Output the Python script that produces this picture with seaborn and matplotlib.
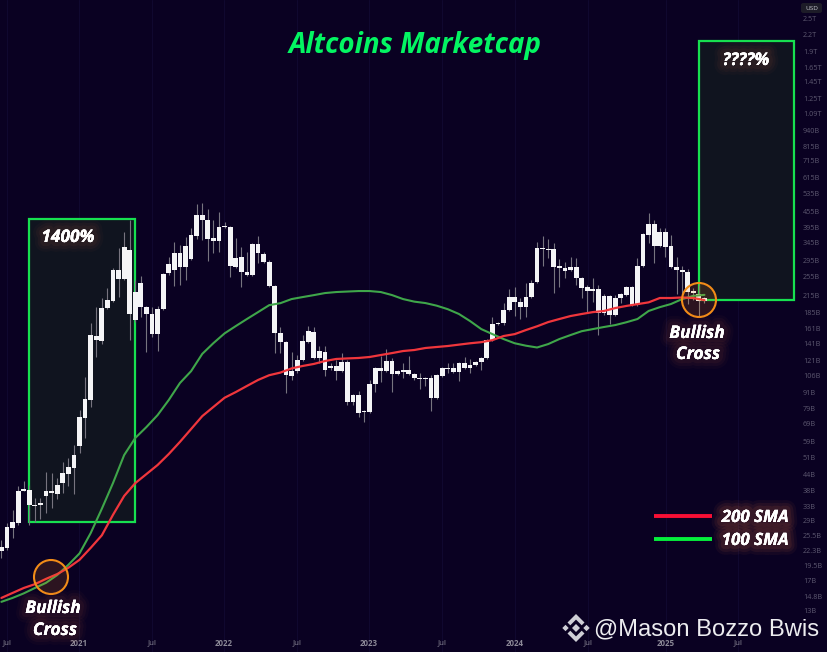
import numpy as np
import pandas as pd
import seaborn as sns
import matplotlib.pyplot as plt
import matplotlib.dates as mdates
import matplotlib.patheffects as pe
from matplotlib.patches import Rectangle, Ellipse, Polygon, FancyBboxPatch

# Biweekly candles in billions USD
body_top = [23.0, 27.4, 28.7, 37.9, 38.4, 38.2, 33.4, 34.0, 37.9, 37.9, 39.9, 44.4, 46.9, 52.1, 73.1, 85.9,
            151.7, 150.4, 192.9, 207, 270.6, 270.6, 331.5, 323, 222.5, 241, 194.5, 183, 191.2, 261, 285.5, 314.6,
            314.6, 334.5, 369, 441, 441, 422, 359.4, 396.4, 400, 396.4, 301.3, 304, 265.8, 340.5, 340.5, 311.8,
            290.8, 234.6, 154.4, 142.4, 110, 121.5, 143.7, 157.2, 155.8, 131.6, 130.4, 115.2, 115.2, 119.4, 119.4, 89,
            89, 77.1, 98.1, 113, 113, 120.4, 120.4, 110, 111, 111, 107.2, 103.5, 103.5, 103.5, 106.2, 113,
            113, 113, 118.3, 118.3, 116.2, 119.4, 123.7, 145, 167.3, 168.8, 189.5, 212.8, 212.8, 203.3, 212.8, 241,
            328.8, 328.8, 326, 326, 280.5, 275.5, 278, 278, 252, 232.5, 228.5, 228.5, 214.7, 214.7, 211, 218.6,
            232.5, 232.5, 280.5, 372.3, 407, 407, 379, 379, 334.5, 278, 270.6, 265.8, 224.5, 218.6, 211]
body_bottom = [22.2, 22.8, 27.2, 28.4, 37.9, 33.4, 33.1, 33.4, 36.2, 37.2, 36.8, 40.6, 44, 46.5, 56.5, 72.5,
               85.1, 145, 143.7, 192.9, 205, 249.7, 249.7, 183, 173.4, 194.5, 183, 153, 153, 191.2, 263.5, 270.6,
               278, 278, 298.6, 366, 422, 356, 350, 350, 396.4, 280.5, 278, 265.8, 258.8, 258.8, 314.6, 290.8,
               234.6, 154.4, 142.4, 106.2, 105.2, 110, 121.5, 142.4, 123.7, 123.7, 111, 113, 110, 110, 83.6, 83.6,
               75.8, 76.5, 76.5, 98.1, 110, 110, 107.2, 107.2, 109, 107.2, 103.5, 102.6, 102.6, 86.7, 86.7, 105.2,
               112, 109, 109, 113, 113, 116.2, 119.4, 123.7, 145, 167.3, 168.8, 189.5, 203.3, 194.5, 194.5, 212.8,
               243, 326, 323, 278, 275.5, 268, 270.6, 252, 230.5, 224.5, 224.5, 184.6, 184.6, 181.3, 181.3, 211,
               216.6, 198, 198, 280.5, 369, 334.5, 334.5, 331.5, 278, 270.6, 265.8, 222.5, 220.5, 205, 205]
wick_high = [24.5, 28.4, 32, 39.6, 41.3, 39.9, 35.5, 35.5, 44.8, 44.4, 42.5, 49, 50.6, 57, 77.8, 104.3,
             168.8, 194.5, 211, 230.5, 275.5, 328.8, 379, 422, 247.5, 256.5, 196.2, 194.5, 196.2, 263.5, 304, 347,
             337.5, 362.5, 393, 486, 490, 465, 422, 453, 414, 400, 359.4, 331.5, 317.3, 343.6, 366, 317.3,
             296, 236.7, 162.8, 143.7, 130.4, 127, 151.7, 164.3, 162.8, 137.4, 137.4, 118.3, 121.5, 129.2, 121.5, 89.8,
             92.2, 77.8, 101.7, 114.2, 125.8, 134, 123.7, 111, 118.3, 125.8, 108.1, 108.1, 104.3, 106.2, 107.2, 114.2,
             118.3, 118.3, 119.4, 124.8, 122.6, 120.4, 124.8, 146.3, 178.1, 170.3, 201.5, 228.5, 232.5, 211, 241, 247.5,
             347, 366, 356, 343.6, 298.6, 290.8, 304, 301.3, 254.3, 236.7, 252, 236.7, 218.6, 216.6, 216.6, 220.5,
             234.6, 234.6, 301.3, 375.8, 449, 422, 393, 393, 369, 304, 280.5, 273, 230.5, 236.7, 212.8]
wick_low = [20.9, 22.4, 24.9, 27.9, 37.9, 27.9, 28.7, 29.5, 31, 32.6, 35.2, 37.2, 39.6, 36.8, 53, 60.7,
            79.9, 124.8, 140, 191.2, 203.3, 212.8, 247.5, 145, 170.3, 178.1, 130.4, 149, 131.6, 189.5, 258.8, 234.6,
            236.7, 247.5, 296, 356, 353, 293.3, 314.6, 317.3, 393, 254.3, 275.5, 232.5, 256.5, 256.5, 288, 288,
            232.5, 129.2, 129.2, 90.6, 101.7, 108.1, 120.4, 141.2, 122.6, 118.3, 105.2, 111, 101.7, 109, 81.4, 81.4,
            73.1, 69.9, 75.8, 91.3, 100, 109, 91.3, 106.2, 103.5, 106.2, 101.7, 93.8, 96.3, 77.1, 85.9, 104.3,
            108.1, 108.1, 100.8, 112, 108.1, 115.2, 111, 122.6, 143.7, 165.8, 165.8, 187.8, 179.7, 175, 178.1, 211,
            241, 280.5, 301.3, 220.5, 232.5, 252, 268, 236.7, 211, 184.6, 203.3, 151.7, 181.3, 167.3, 179.7, 201.5,
            214.7, 196.2, 196.2, 278, 343.6, 288, 331.5, 304, 275.5, 218.6, 216.6, 199.8, 207, 178.1, 201.5]

# moving averages, one reading every second candle
sma_200 = [14.6, 15.26, 15.95, 16.5, 17.3, 18.05, 19.1, 20.5, 22.8, 25.5, 30.6, 36.2, 40.6, 44, 47.7, 52.6,
           58.6, 65.7, 73.7, 80, 86.8, 91.3, 96.4, 101.7, 106.1, 108.6, 112.7, 115.2, 117.3, 120.4, 122.6, 123.2,
           123.7, 124.8, 127, 129.2, 131.6, 132.8, 135.2, 136.4, 137.6, 139.3, 141, 142.4, 145, 150.4, 153, 158.6,
           164, 170.3, 175, 179.7, 183, 186.1, 188, 192.9, 196.6, 199.8, 203, 211, 211, 212, 211, 207]
sma_100 = [14.1, 14.6, 15.2, 15.95, 16.7, 17.9, 19.6, 21.7, 26.0, 32.3, 40.6, 52.1, 60.7, 66.9, 74.4, 85.1,
           99, 110, 128.3, 141.2, 154, 164.3, 175, 186.1, 198, 201.5, 209, 212.8, 216.5, 220.5, 222.5, 223.5,
           224.5, 224.5, 222.5, 216.6, 209, 204.3, 201.7, 197.1, 191, 183, 171.8, 160, 153, 146.4, 141, 138,
           135.8, 140, 146.4, 151.7, 157, 160, 163, 165.8, 170, 175, 188, 194.5, 200, 209, 215, 217]

y_ticks = [2550, 2200, 1900, 1650, 1450, 1250, 1090, 940, 815, 715, 615, 535, 455, 395, 345, 295, 255, 215, 185,
           161, 141, 121, 106, 91, 79, 69, 59, 51, 44, 38, 33, 29, 25.5, 22.3, 19.5, 17, 14.8, 13]
y_labels = ['2.5T', '2.2T', '1.9T', '1.65T', '1.45T', '1.25T', '1.09T', '940B', '815B', '715B', '615B', '535B',
            '455B', '395B', '345B', '295B', '255B', '215B', '185B', '161B', '141B', '121B', '106B', '91B', '79B',
            '69B', '59B', '51B', '44B', '38B', '33B', '29B', '25.5B', '22.3B', '19.5B', '17B', '14.8B', '13B']
x_ticks = ['2020-07-01', '2020-12-29', '2021-06-30', '2021-12-27', '2022-06-28', '2022-12-26',
           '2023-06-27', '2023-12-27', '2024-06-27', '2025-01-09', '2025-07-09']
x_labels = ['Jul', '2021', 'Jul', '2022', 'Jul', '2023', 'Jul', '2024', 'Jul', '2025', 'Jul']

BG = '#0a0122'
W, H = 828, 652

sns.set_theme(style='dark', rc={'axes.facecolor': BG, 'figure.facecolor': BG})
plt.rcParams['font.family'] = ['Open Sans', 'DejaVu Sans']


def px(x, y):
    return x / W, 1 - y / H


def glow_text(x, y, s, size, color='white', glow='#c8643c', strength=1.0, **kw):
    t = ax.text(*px(x, y), s, transform=ax.transAxes, ha='center', va='center', color=color,
                fontsize=size, fontweight='bold', fontstyle='italic', zorder=8, **kw)
    t.set_path_effects([pe.withStroke(linewidth=14, foreground=glow, alpha=0.035 * strength),
                        pe.withStroke(linewidth=10, foreground=glow, alpha=0.05 * strength),
                        pe.withStroke(linewidth=6, foreground=glow, alpha=0.06 * strength),
                        pe.Normal()])
    return t


dates = pd.date_range('2020-06-17', periods=len(body_top), freq='14D')
candles = pd.DataFrame({'date': dates, 'top': body_top, 'bottom': body_bottom, 'high': wick_high, 'low': wick_low})
sma = pd.DataFrame({'date': dates[::2], 'sma_200': sma_200, 'sma_100': sma_100})

fig = plt.figure(figsize=(W / 100, H / 100), dpi=100)
ax = fig.add_axes([0, 0, 1, 1])
ax.set_yscale('log')

x_num = mdates.date2num(candles['date'])
ax.vlines(x_num, candles['low'], candles['high'], color='#77747f', lw=0.8, zorder=3)
ax.bar(x_num, candles['top'] - candles['bottom'], bottom=candles['bottom'], width=12,
       color='#f4f4f6', linewidth=0, zorder=4)

sma['x'] = mdates.date2num(sma['date'])
sns.lineplot(data=sma, x='x', y='sma_100', color='#3fa64a', lw=1.5, ax=ax, zorder=5, estimator=None, sort=False)
sns.lineplot(data=sma, x='x', y='sma_200', color='#f0363c', lw=1.6, ax=ax, zorder=5, estimator=None, sort=False)

start = mdates.date2num(dates[0])
ax.set_xlim(start - 3.5, start + 2074)
ax.set_ylim(9.02, 2998)
ax.set_xlabel('')
ax.set_ylabel('')

ax.yaxis.tick_right()
ax.set_yticks(y_ticks, y_labels)
ax.tick_params(axis='y', which='both', length=0, pad=-18, labelsize=5.2, colors='#5d5870')
ax.minorticks_off()
for lab in ax.get_yticklabels():
    lab.set_ha('left')
ax.set_xticks(mdates.date2num(pd.to_datetime(x_ticks)), x_labels)
ax.tick_params(axis='x', length=0, pad=-9, labelsize=5.7, colors='#8c8997')
for lab in ax.get_xticklabels():
    lab.set_fontweight('bold' if lab.get_text() != 'Jul' else 'normal')
ax.xaxis.grid(True, color='#110930', lw=0.7)
ax.yaxis.grid(False)
ax.set_axisbelow(True)
sns.despine(ax=ax, left=True, bottom=True, right=True, top=True)

# target boxes
for x0, y0, x1, y1 in [(29, 219, 135, 522), (699, 41, 794, 300)]:
    ax.add_patch(Rectangle(px(x0, y1), (x1 - x0) / W, (y1 - y0) / H, transform=ax.transAxes,
                           facecolor='#10141f', edgecolor='#17e050', lw=1.6, zorder=2))

# cross markers
for cx, cy in [(51, 577), (699, 300)]:
    ax.add_patch(Ellipse(px(cx, cy), 34 / W, 34 / H, transform=ax.transAxes,
                         facecolor=(1, 0.55, 0.1, 0.14), edgecolor='#f28c18', lw=1.5, zorder=6))

ax.text(*px(415, 45), 'Altcoins Marketcap', transform=ax.transAxes, ha='center', va='center',
        color='#03f562', fontsize=20, fontweight='bold', fontstyle='italic', zorder=8)

glow_text(68, 237, '1400%', 12.5)
glow_text(746, 60, '????%', 12.5)
glow_text(53, 608, 'Bullish', 12.5)
glow_text(55, 630, 'Cross', 12.5)
glow_text(697, 333, 'Bullish', 12.5)
glow_text(698, 354, 'Cross', 12.5)
glow_text(755, 517, '200 SMA', 12.2, strength=1.8)
glow_text(755, 540, '100 SMA', 12.2, strength=1.8)

# legend strokes
ax.plot(*zip(px(654, 516), px(712, 516)), transform=ax.transAxes, color='#f80f35', lw=2.8, zorder=7,
        solid_capstyle='butt')
ax.plot(*zip(px(654, 539), px(712, 539)), transform=ax.transAxes, color='#05ef3c', lw=2.8, zorder=7,
        solid_capstyle='butt')

# USD tag
ax.add_patch(FancyBboxPatch(px(801, 13), 21 / W, 10 / H, transform=ax.transAxes,
                            boxstyle='round,pad=0,rounding_size=0.003', facecolor='#1d1c28', edgecolor='none',
                            zorder=9))
ax.text(*px(811.5, 8), 'USD', transform=ax.transAxes, ha='center', va='center', fontsize=4.6, color='#c9c9d2', zorder=10)

# watermark
logo_c = '#cfcfd6'
cx, cy = 576, 628
for dx in (-10.5, 0, 10.5):
    r = 4 if dx == 0 else 3.2
    pts = [(cx + dx - r, cy), (cx + dx, cy - r), (cx + dx + r, cy), (cx + dx, cy + r)]
    ax.add_patch(Polygon([px(*p) for p in pts], transform=ax.transAxes, facecolor=logo_c, edgecolor='none', zorder=9))
for sgn in (-1, 1):
    pts = [(cx, cy + sgn * 14), (cx + 8.5, cy + sgn * 5.5), (cx + 5.7, cy + sgn * 2.7), (cx, cy + sgn * 8.4),
           (cx - 5.7, cy + sgn * 2.7), (cx - 8.5, cy + sgn * 5.5)]
    ax.add_patch(Polygon([px(*p) for p in pts], transform=ax.transAxes, facecolor=logo_c, edgecolor='none', zorder=9))
ax.text(*px(594, 629), '@Mason Bozzo Bwis', transform=ax.transAxes, ha='left', va='center', fontsize=17.1,
        color='#ececef', family='Liberation Sans', zorder=9)

fig.savefig('out.png', dpi=100, facecolor=BG)
